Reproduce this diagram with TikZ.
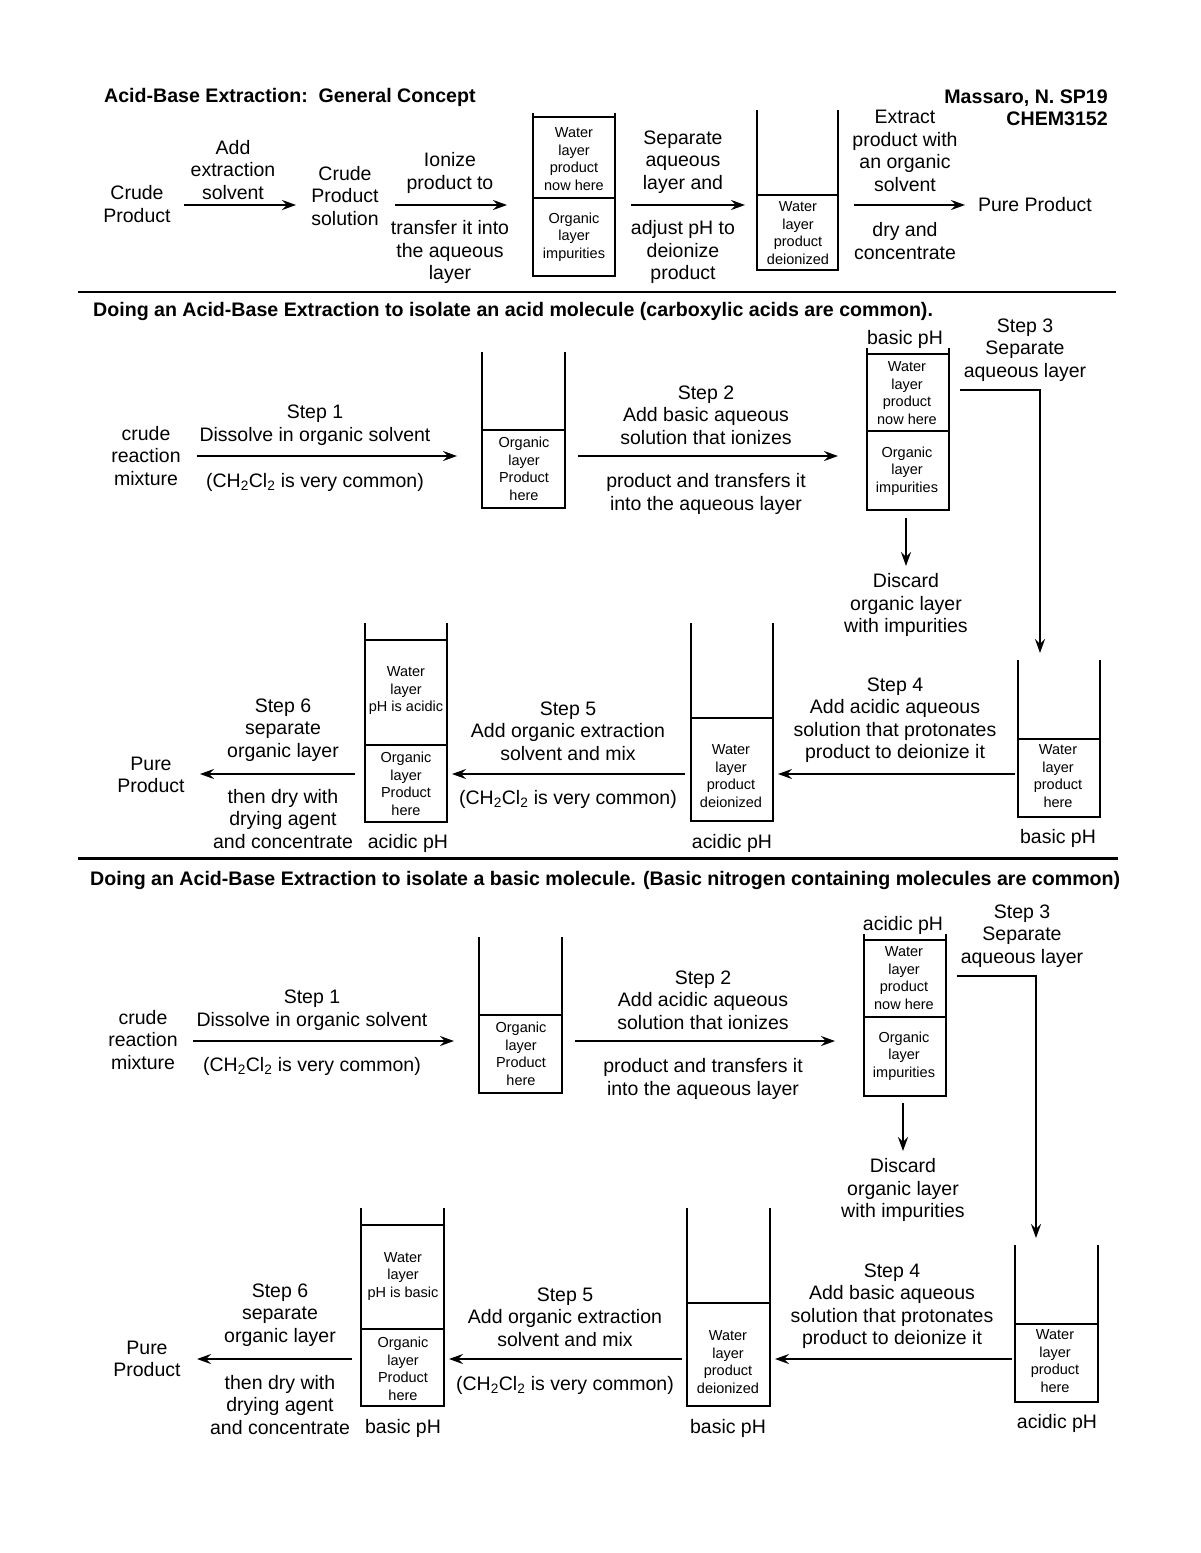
\documentclass[tikz,border=0pt]{standalone}
\usepackage{fontspec}
\setmainfont{Liberation Sans}
\usetikzlibrary{arrows.meta}
\newcommand{\mybeaker}[4]{\draw[wall] (#1,#3) -- (#1,#4) -- (#2,#4) -- (#2,#3);}
\newcommand{\mylayer}[3]{\draw[lay] (#1,#3) -- (#2,#3);}
\begin{document}
\begin{tikzpicture}[x=1pt,y=-1pt,
  txt/.style={font=\fontsize{19.5}{22.5}\selectfont, align=center, inner sep=0pt},
  small/.style={font=\fontsize{14.5}{17.5}\selectfont, align=center, inner sep=0pt},
  bold/.style={font=\fontsize{19.6}{22}\selectfont\bfseries, inner sep=0pt},
  wall/.style={line width=2.5pt},
  lay/.style={line width=1.5pt},
  rule/.style={line width=2.5pt},
  arr/.style={line width=2pt, -{Stealth[length=14pt,width=10pt,inset=5pt]}},
  arrt/.style={line width=1.6pt, -{Stealth[length=14pt,width=10pt,inset=5pt]}}]
\useasboundingbox (0,0) rectangle (1200,1553);
\fill[white] (0,0) rectangle (1200,1553);

% ---------------- Section 1 ----------------
\node[bold, anchor=west] (title1) at (104,97) {Acid-Base Extraction:\ \ General Concept};
\node[bold, anchor=east, align=right] (auth) at (1108,108) {Massaro, N. SP19\\CHEM3152};

\node[txt] (crude) at (137,204) {Crude\\Product};
\coordinate (a1s) at (184,205); \coordinate (a1e) at (296,205);
\draw[arr] (a1s) -- (a1e);
\node[txt] (l1) at (233,170) {Add\\extraction\\solvent};
\node[txt] (cps) at (345,196) {Crude\\Product\\solution};
\coordinate (a2s) at (395,205); \coordinate (a2e) at (507,205);
\draw[arr] (a2s) -- (a2e);
\node[txt] (l2a) at (450,173) {Ionize\\product to};
\node[txt] (l2b) at (450,252) {transfer it into\\the aqueous\\layer};
\mybeaker{533}{615}{113}{276}
\mylayer{533}{615}{117}
\mylayer{533}{615}{198}
\node[small] (b1w) at (574,159) {Water\\layer\\product\\now here};
\node[small] (b1o) at (574,237) {Organic\\layer\\impurities};
\coordinate (a3s) at (631,205); \coordinate (a3e) at (745,205);
\draw[arr] (a3s) -- (a3e);
\node[txt] (l3a) at (683,162) {Separate\\aqueous\\layer and};
\node[txt] (l3b) at (683,252) {adjust pH to\\deionize\\product};
\mybeaker{757}{838}{110}{270}
\mylayer{757}{838}{195}
\node[small] (b2w) at (798,233) {Water\\layer\\product\\deionized};
\coordinate (a4s) at (854,205); \coordinate (a4e) at (965,205);
\draw[arr] (a4s) -- (a4e);
\node[txt] (l4a) at (905,151) {Extract\\product with\\an organic\\solvent};
\node[txt] (l4b) at (905,241) {dry and\\concentrate};
\node[txt] (pure1) at (1035,205) {Pure Product};

\coordinate (r1s) at (78,292); \coordinate (r1e) at (1116,292);
\draw[rule] (r1s) -- (r1e);

% ---------------- Section 2 ----------------
\node[bold, anchor=west] (title2) at (93,311) {Doing an Acid-Base Extraction to isolate an acid molecule (carboxylic acids are common).};

\node[txt] (crude2) at (146,456) {crude\\reaction\\mixture};
\coordinate (s1s) at (197,456); \coordinate (s1e) at (457,456);
\draw[arr] (s1s) -- (s1e);
\node[txt] (s1a) at (315,425) {Step 1\\Dissolve in organic solvent};
\node[txt] (s1b) at (315,482) {(CH\textsubscript{2}Cl\textsubscript{2} is very common)};
\mybeaker{482}{565}{352}{508}
\mylayer{482}{565}{430}
\node[small] (bAo) at (524,469) {Organic\\layer\\Product\\here};
\coordinate (s2s) at (578,456); \coordinate (s2e) at (838,456);
\draw[arr] (s2s) -- (s2e);
\node[txt] (s2a) at (706,415) {Step 2\\Add basic aqueous\\solution that ionizes};
\node[txt] (s2b) at (706,494) {product and transfers it\\into the aqueous layer};
\node[txt] (phB) at (905,339) {basic pH};
\mybeaker{867}{949}{348}{510}
\mylayer{867}{949}{354}
\mylayer{867}{949}{431}
\node[small] (bBw) at (907,393) {Water\\layer\\product\\now here};
\node[small] (bBo) at (907,471) {Organic\\layer\\impurities};
\coordinate (d1s) at (906,518); \coordinate (d1e) at (906,566);
\draw[arr, line width=2.5pt] (d1s) -- (d1e);
\node[txt] (disc1) at (906,605) {Discard\\organic layer\\with impurities};
\node[txt] (s3) at (1025,350) {Step 3\\Separate\\aqueous layer};
\coordinate (s3s) at (960,390); \coordinate (s3k) at (1040,390); \coordinate (s3e) at (1040,653);
\draw[arr] (s3s) -- (s3k) -- (s3e);
\mybeaker{1018}{1100}{660}{817}
\mylayer{1018}{1100}{739}
\node[small] (bCw) at (1058,776) {Water\\layer\\product\\here};
\node[txt] (phC) at (1058,838) {basic pH};
\coordinate (s4s) at (1015,774); \coordinate (s4e) at (778,774);
\draw[arrt] (s4s) -- (s4e);
\node[txt] (s4) at (895,720) {Step 4\\Add acidic aqueous\\solution that protonates\\product to deionize it};
\mybeaker{691}{773}{623}{821}
\mylayer{691}{773}{718}
\node[small] (bDw) at (731,776) {Water\\layer\\product\\deionized};
\node[txt] (phD) at (732,843) {acidic pH};
\coordinate (s5s) at (685,774); \coordinate (s5e) at (452,774);
\draw[arrt] (s5s) -- (s5e);
\node[txt] (s5a) at (568,731) {Step 5\\Add organic extraction\\solvent and mix};
\node[txt] (s5b) at (568,799) {(CH\textsubscript{2}Cl\textsubscript{2} is very common)};
\mybeaker{365}{447}{623}{822}
\mylayer{365}{447}{640}
\mylayer{365}{447}{745}
\node[small] (bEw) at (406,691) {Water\\layer\\pH is acidic};
\node[small] (bEo) at (406,784) {Organic\\layer\\Product\\here};
\node[txt] (phE) at (408,843) {acidic pH};
\coordinate (s6s) at (355,774); \coordinate (s6e) at (200,774);
\draw[arrt] (s6s) -- (s6e);
\node[txt] (s6a) at (283,730) {Step 6\\separate\\organic layer};
\node[txt] (s6b) at (283,819) {then dry with\\drying agent\\and concentrate};
\node[txt] (pure2) at (151,775) {Pure\\Product};

\coordinate (r2s) at (78,858); \coordinate (r2e) at (1118,858);
\draw[rule, line width=3pt] (r2s) -- (r2e);

% ---------------- Section 3 ----------------
\node[bold, anchor=west] (title3) at (90,880) {Doing an Acid-Base Extraction to isolate a basic molecule. (Basic nitrogen containing molecules are common)};

\node[txt] (crude3) at (143,1040) {crude\\reaction\\mixture};
\coordinate (t1s) at (193,1041); \coordinate (t1e) at (454,1041);
\draw[arr] (t1s) -- (t1e);
\node[txt] (t1a) at (312,1010) {Step 1\\Dissolve in organic solvent};
\node[txt] (t1b) at (312,1066) {(CH\textsubscript{2}Cl\textsubscript{2} is very common)};
\mybeaker{479}{562}{937}{1093}
\mylayer{479}{562}{1015}
\node[small] (cAo) at (521,1054) {Organic\\layer\\Product\\here};
\coordinate (t2s) at (575,1041); \coordinate (t2e) at (835,1041);
\draw[arr] (t2s) -- (t2e);
\node[txt] (t2a) at (703,1000) {Step 2\\Add acidic aqueous\\solution that ionizes};
\node[txt] (t2b) at (703,1079) {product and transfers it\\into the aqueous layer};
\node[txt] (phB3) at (903,925) {acidic pH};
\mybeaker{864}{946}{934}{1096}
\mylayer{864}{946}{940}
\mylayer{864}{946}{1017}
\node[small] (cBw) at (904,978) {Water\\layer\\product\\now here};
\node[small] (cBo) at (904,1056) {Organic\\layer\\impurities};
\coordinate (d2s) at (903,1103); \coordinate (d2e) at (903,1151);
\draw[arr, line width=2.5pt] (d2s) -- (d2e);
\node[txt] (disc2) at (903,1190) {Discard\\organic layer\\with impurities};
\node[txt] (t3) at (1022,936) {Step 3\\Separate\\aqueous layer};
\coordinate (t3s) at (957,976); \coordinate (t3k) at (1036,976); \coordinate (t3e) at (1036,1238);
\draw[arr] (t3s) -- (t3k) -- (t3e);
\mybeaker{1015}{1098}{1245}{1402}
\mylayer{1015}{1098}{1324}
\node[small] (cCw) at (1055,1361) {Water\\layer\\product\\here};
\node[txt] (phC3) at (1057,1423) {acidic pH};
\coordinate (t4s) at (1012,1359); \coordinate (t4e) at (775,1359);
\draw[arr] (t4s) -- (t4e);
\node[txt] (t4) at (892,1306) {Step 4\\Add basic aqueous\\solution that protonates\\product to deionize it};
\mybeaker{687}{770}{1208}{1406}
\mylayer{687}{770}{1303}
\node[small] (cDw) at (728,1362) {Water\\layer\\product\\deionized};
\node[txt] (phD3) at (728,1428) {basic pH};
\coordinate (t5s) at (682,1359); \coordinate (t5e) at (449,1359);
\draw[arr] (t5s) -- (t5e);
\node[txt] (t5a) at (565,1317) {Step 5\\Add organic extraction\\solvent and mix};
\node[txt] (t5b) at (565,1385) {(CH\textsubscript{2}Cl\textsubscript{2} is very common)};
\mybeaker{361}{444}{1208}{1406}
\mylayer{361}{444}{1225}
\mylayer{361}{444}{1329}
\node[small] (cEw) at (403,1276) {Water\\layer\\pH is basic};
\node[small] (cEo) at (403,1369) {Organic\\layer\\Product\\here};
\node[txt] (phE3) at (403,1428) {basic pH};
\coordinate (t6s) at (352,1359); \coordinate (t6e) at (197,1359);
\draw[arr] (t6s) -- (t6e);
\node[txt] (t6a) at (280,1315) {Step 6\\separate\\organic layer};
\node[txt] (t6b) at (280,1405) {then dry with\\drying agent\\and concentrate};
\node[txt] (pure3) at (147,1359) {Pure\\Product};
\end{tikzpicture}
\end{document}
